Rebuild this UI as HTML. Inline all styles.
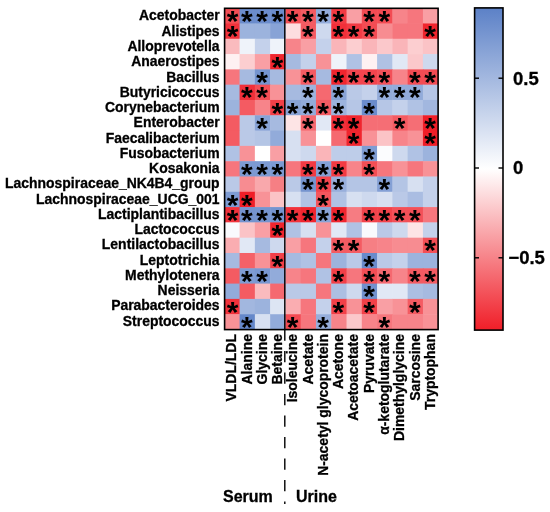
<!DOCTYPE html><html><head><meta charset="utf-8"><title>Heatmap</title><style>html,body{margin:0;padding:0;background:#fff}svg{display:block}text{font-family:"Liberation Sans",sans-serif;font-weight:bold;fill:#000}</style></head><body>
<svg width="550" height="512" viewBox="0 0 550 512">
<defs><linearGradient id="cb" x1="0" y1="0" x2="0" y2="1"><stop offset="0" stop-color="#5c81c7"/><stop offset="0.5" stop-color="#ffffff"/><stop offset="1" stop-color="#f01e28"/></linearGradient></defs>
<rect width="550" height="512" fill="#fff"/>
<g>
<rect x="224.30" y="8.15" width="15.78" height="15.80" fill="#f34e55"/>
<rect x="239.58" y="8.15" width="15.78" height="15.80" fill="#6b8ccc"/>
<rect x="254.86" y="8.15" width="15.78" height="15.80" fill="#6b8ccc"/>
<rect x="270.14" y="8.15" width="15.78" height="15.80" fill="#6b8ccc"/>
<rect x="285.41" y="8.15" width="15.78" height="15.80" fill="#f34e55"/>
<rect x="300.69" y="8.15" width="15.78" height="15.80" fill="#f45b62"/>
<rect x="315.97" y="8.15" width="15.78" height="15.80" fill="#92abda"/>
<rect x="331.25" y="8.15" width="15.78" height="15.80" fill="#f23a43"/>
<rect x="346.53" y="8.15" width="15.78" height="15.80" fill="#f99fa4"/>
<rect x="361.81" y="8.15" width="15.78" height="15.80" fill="#f34b53"/>
<rect x="377.09" y="8.15" width="15.78" height="15.80" fill="#f34b53"/>
<rect x="392.36" y="8.15" width="15.78" height="15.80" fill="#f7848a"/>
<rect x="407.64" y="8.15" width="15.78" height="15.80" fill="#f6767d"/>
<rect x="422.92" y="8.15" width="15.28" height="15.80" fill="#f99fa4"/>
<rect x="224.30" y="23.45" width="15.78" height="15.80" fill="#f1323b"/>
<rect x="239.58" y="23.45" width="15.78" height="15.80" fill="#9cb3dd"/>
<rect x="254.86" y="23.45" width="15.78" height="15.80" fill="#9cb3dd"/>
<rect x="270.14" y="23.45" width="15.78" height="15.80" fill="#88a3d6"/>
<rect x="285.41" y="23.45" width="15.78" height="15.80" fill="#fddee0"/>
<rect x="300.69" y="23.45" width="15.78" height="15.80" fill="#f45b62"/>
<rect x="315.97" y="23.45" width="15.78" height="15.80" fill="#ced9ee"/>
<rect x="331.25" y="23.45" width="15.78" height="15.80" fill="#f12f39"/>
<rect x="346.53" y="23.45" width="15.78" height="15.80" fill="#f23a43"/>
<rect x="361.81" y="23.45" width="15.78" height="15.80" fill="#f34b53"/>
<rect x="377.09" y="23.45" width="15.78" height="15.80" fill="#f78c91"/>
<rect x="392.36" y="23.45" width="15.78" height="15.80" fill="#f6767d"/>
<rect x="407.64" y="23.45" width="15.78" height="15.80" fill="#f6767d"/>
<rect x="422.92" y="23.45" width="15.28" height="15.80" fill="#f0252e"/>
<rect x="224.30" y="38.75" width="15.78" height="15.80" fill="#fabbbe"/>
<rect x="239.58" y="38.75" width="15.78" height="15.80" fill="#eff3fa"/>
<rect x="254.86" y="38.75" width="15.78" height="15.80" fill="#c4d1eb"/>
<rect x="270.14" y="38.75" width="15.78" height="15.80" fill="#eff3fa"/>
<rect x="285.41" y="38.75" width="15.78" height="15.80" fill="#f7848a"/>
<rect x="300.69" y="38.75" width="15.78" height="15.80" fill="#f99fa4"/>
<rect x="315.97" y="38.75" width="15.78" height="15.80" fill="#c4d1eb"/>
<rect x="331.25" y="38.75" width="15.78" height="15.80" fill="#fab5b9"/>
<rect x="346.53" y="38.75" width="15.78" height="15.80" fill="#fcced0"/>
<rect x="361.81" y="38.75" width="15.78" height="15.80" fill="#fab5b9"/>
<rect x="377.09" y="38.75" width="15.78" height="15.80" fill="#fbc8cb"/>
<rect x="392.36" y="38.75" width="15.78" height="15.80" fill="#fab5b9"/>
<rect x="407.64" y="38.75" width="15.78" height="15.80" fill="#fcced0"/>
<rect x="422.92" y="38.75" width="15.28" height="15.80" fill="#fbc3c6"/>
<rect x="224.30" y="54.06" width="15.78" height="15.80" fill="#fef1f2"/>
<rect x="239.58" y="54.06" width="15.78" height="15.80" fill="#fcced0"/>
<rect x="254.86" y="54.06" width="15.78" height="15.80" fill="#f99fa4"/>
<rect x="270.14" y="54.06" width="15.78" height="15.80" fill="#f0252e"/>
<rect x="285.41" y="54.06" width="15.78" height="15.80" fill="#a6bae0"/>
<rect x="300.69" y="54.06" width="15.78" height="15.80" fill="#c4d1eb"/>
<rect x="315.97" y="54.06" width="15.78" height="15.80" fill="#f89297"/>
<rect x="331.25" y="54.06" width="15.78" height="15.80" fill="#eff3fa"/>
<rect x="346.53" y="54.06" width="15.78" height="15.80" fill="#b0c2e4"/>
<rect x="361.81" y="54.06" width="15.78" height="15.80" fill="#fef1f2"/>
<rect x="377.09" y="54.06" width="15.78" height="15.80" fill="#b0c2e4"/>
<rect x="392.36" y="54.06" width="15.78" height="15.80" fill="#e1e8f5"/>
<rect x="407.64" y="54.06" width="15.78" height="15.80" fill="#fbc8cb"/>
<rect x="422.92" y="54.06" width="15.28" height="15.80" fill="#ced9ee"/>
<rect x="224.30" y="69.36" width="15.78" height="15.80" fill="#f6767d"/>
<rect x="239.58" y="69.36" width="15.78" height="15.80" fill="#a6bae0"/>
<rect x="254.86" y="69.36" width="15.78" height="15.80" fill="#7594cf"/>
<rect x="270.14" y="69.36" width="15.78" height="15.80" fill="#a6bae0"/>
<rect x="285.41" y="69.36" width="15.78" height="15.80" fill="#f89297"/>
<rect x="300.69" y="69.36" width="15.78" height="15.80" fill="#f45b62"/>
<rect x="315.97" y="69.36" width="15.78" height="15.80" fill="#a6bae0"/>
<rect x="331.25" y="69.36" width="15.78" height="15.80" fill="#f0252e"/>
<rect x="346.53" y="69.36" width="15.78" height="15.80" fill="#f3454e"/>
<rect x="361.81" y="69.36" width="15.78" height="15.80" fill="#f3454e"/>
<rect x="377.09" y="69.36" width="15.78" height="15.80" fill="#f35058"/>
<rect x="392.36" y="69.36" width="15.78" height="15.80" fill="#f7848a"/>
<rect x="407.64" y="69.36" width="15.78" height="15.80" fill="#f34b53"/>
<rect x="422.92" y="69.36" width="15.28" height="15.80" fill="#f34b53"/>
<rect x="224.30" y="84.66" width="15.78" height="15.80" fill="#a6bae0"/>
<rect x="239.58" y="84.66" width="15.78" height="15.80" fill="#f12f39"/>
<rect x="254.86" y="84.66" width="15.78" height="15.80" fill="#f34e55"/>
<rect x="270.14" y="84.66" width="15.78" height="15.80" fill="#f89297"/>
<rect x="285.41" y="84.66" width="15.78" height="15.80" fill="#a6bae0"/>
<rect x="300.69" y="84.66" width="15.78" height="15.80" fill="#9cb3dd"/>
<rect x="315.97" y="84.66" width="15.78" height="15.80" fill="#f56970"/>
<rect x="331.25" y="84.66" width="15.78" height="15.80" fill="#88a3d6"/>
<rect x="346.53" y="84.66" width="15.78" height="15.80" fill="#bac9e7"/>
<rect x="361.81" y="84.66" width="15.78" height="15.80" fill="#c4d1eb"/>
<rect x="377.09" y="84.66" width="15.78" height="15.80" fill="#92abda"/>
<rect x="392.36" y="84.66" width="15.78" height="15.80" fill="#92abda"/>
<rect x="407.64" y="84.66" width="15.78" height="15.80" fill="#92abda"/>
<rect x="422.92" y="84.66" width="15.28" height="15.80" fill="#b6c6e6"/>
<rect x="224.30" y="99.96" width="15.78" height="15.80" fill="#9cb3dd"/>
<rect x="239.58" y="99.96" width="15.78" height="15.80" fill="#f45b62"/>
<rect x="254.86" y="99.96" width="15.78" height="15.80" fill="#f7848a"/>
<rect x="270.14" y="99.96" width="15.78" height="15.80" fill="#f24048"/>
<rect x="285.41" y="99.96" width="15.78" height="15.80" fill="#88a3d6"/>
<rect x="300.69" y="99.96" width="15.78" height="15.80" fill="#92abda"/>
<rect x="315.97" y="99.96" width="15.78" height="15.80" fill="#f45b62"/>
<rect x="331.25" y="99.96" width="15.78" height="15.80" fill="#9cb3dd"/>
<rect x="346.53" y="99.96" width="15.78" height="15.80" fill="#b6c6e6"/>
<rect x="361.81" y="99.96" width="15.78" height="15.80" fill="#6b8ccc"/>
<rect x="377.09" y="99.96" width="15.78" height="15.80" fill="#b6c6e6"/>
<rect x="392.36" y="99.96" width="15.78" height="15.80" fill="#c4d1eb"/>
<rect x="407.64" y="99.96" width="15.78" height="15.80" fill="#b0c2e4"/>
<rect x="422.92" y="99.96" width="15.28" height="15.80" fill="#a2b7df"/>
<rect x="224.30" y="115.27" width="15.78" height="15.80" fill="#f45b62"/>
<rect x="239.58" y="115.27" width="15.78" height="15.80" fill="#bac9e7"/>
<rect x="254.86" y="115.27" width="15.78" height="15.80" fill="#88a3d6"/>
<rect x="270.14" y="115.27" width="15.78" height="15.80" fill="#a6bae0"/>
<rect x="285.41" y="115.27" width="15.78" height="15.80" fill="#fde4e5"/>
<rect x="300.69" y="115.27" width="15.78" height="15.80" fill="#f56970"/>
<rect x="315.97" y="115.27" width="15.78" height="15.80" fill="#e1e8f5"/>
<rect x="331.25" y="115.27" width="15.78" height="15.80" fill="#f12f39"/>
<rect x="346.53" y="115.27" width="15.78" height="15.80" fill="#f0252e"/>
<rect x="361.81" y="115.27" width="15.78" height="15.80" fill="#f56e75"/>
<rect x="377.09" y="115.27" width="15.78" height="15.80" fill="#f56e75"/>
<rect x="392.36" y="115.27" width="15.78" height="15.80" fill="#f45b62"/>
<rect x="407.64" y="115.27" width="15.78" height="15.80" fill="#f56e75"/>
<rect x="422.92" y="115.27" width="15.28" height="15.80" fill="#f01e28"/>
<rect x="224.30" y="130.57" width="15.78" height="15.80" fill="#f45b62"/>
<rect x="239.58" y="130.57" width="15.78" height="15.80" fill="#bac9e7"/>
<rect x="254.86" y="130.57" width="15.78" height="15.80" fill="#b4c5e5"/>
<rect x="270.14" y="130.57" width="15.78" height="15.80" fill="#92abda"/>
<rect x="285.41" y="130.57" width="15.78" height="15.80" fill="#d7e0f1"/>
<rect x="300.69" y="130.57" width="15.78" height="15.80" fill="#f89297"/>
<rect x="315.97" y="130.57" width="15.78" height="15.80" fill="#ffffff"/>
<rect x="331.25" y="130.57" width="15.78" height="15.80" fill="#f56970"/>
<rect x="346.53" y="130.57" width="15.78" height="15.80" fill="#f0252e"/>
<rect x="361.81" y="130.57" width="15.78" height="15.80" fill="#f89297"/>
<rect x="377.09" y="130.57" width="15.78" height="15.80" fill="#fbc3c6"/>
<rect x="392.36" y="130.57" width="15.78" height="15.80" fill="#f7848a"/>
<rect x="407.64" y="130.57" width="15.78" height="15.80" fill="#f89297"/>
<rect x="422.92" y="130.57" width="15.28" height="15.80" fill="#f01e28"/>
<rect x="224.30" y="145.87" width="15.78" height="15.80" fill="#b0c2e4"/>
<rect x="239.58" y="145.87" width="15.78" height="15.80" fill="#f89297"/>
<rect x="254.86" y="145.87" width="15.78" height="15.80" fill="#ffffff"/>
<rect x="270.14" y="145.87" width="15.78" height="15.80" fill="#f99fa4"/>
<rect x="285.41" y="145.87" width="15.78" height="15.80" fill="#d7e0f1"/>
<rect x="300.69" y="145.87" width="15.78" height="15.80" fill="#ced9ee"/>
<rect x="315.97" y="145.87" width="15.78" height="15.80" fill="#fab5b9"/>
<rect x="331.25" y="145.87" width="15.78" height="15.80" fill="#becde9"/>
<rect x="346.53" y="145.87" width="15.78" height="15.80" fill="#becde9"/>
<rect x="361.81" y="145.87" width="15.78" height="15.80" fill="#7e9cd3"/>
<rect x="377.09" y="145.87" width="15.78" height="15.80" fill="#fbfcfe"/>
<rect x="392.36" y="145.87" width="15.78" height="15.80" fill="#ced9ee"/>
<rect x="407.64" y="145.87" width="15.78" height="15.80" fill="#b0c2e4"/>
<rect x="422.92" y="145.87" width="15.28" height="15.80" fill="#9cb3dd"/>
<rect x="224.30" y="161.17" width="15.78" height="15.80" fill="#f6767d"/>
<rect x="239.58" y="161.17" width="15.78" height="15.80" fill="#7c9ad2"/>
<rect x="254.86" y="161.17" width="15.78" height="15.80" fill="#7c9ad2"/>
<rect x="270.14" y="161.17" width="15.78" height="15.80" fill="#7c9ad2"/>
<rect x="285.41" y="161.17" width="15.78" height="15.80" fill="#f6767d"/>
<rect x="300.69" y="161.17" width="15.78" height="15.80" fill="#f23a43"/>
<rect x="315.97" y="161.17" width="15.78" height="15.80" fill="#84a0d5"/>
<rect x="331.25" y="161.17" width="15.78" height="15.80" fill="#f23a43"/>
<rect x="346.53" y="161.17" width="15.78" height="15.80" fill="#f7848a"/>
<rect x="361.81" y="161.17" width="15.78" height="15.80" fill="#f34e55"/>
<rect x="377.09" y="161.17" width="15.78" height="15.80" fill="#f6767d"/>
<rect x="392.36" y="161.17" width="15.78" height="15.80" fill="#f89297"/>
<rect x="407.64" y="161.17" width="15.78" height="15.80" fill="#f6767d"/>
<rect x="422.92" y="161.17" width="15.28" height="15.80" fill="#f89297"/>
<rect x="224.30" y="176.48" width="15.78" height="15.80" fill="#bac9e7"/>
<rect x="239.58" y="176.48" width="15.78" height="15.80" fill="#f78c91"/>
<rect x="254.86" y="176.48" width="15.78" height="15.80" fill="#f9a8ac"/>
<rect x="270.14" y="176.48" width="15.78" height="15.80" fill="#f67f84"/>
<rect x="285.41" y="176.48" width="15.78" height="15.80" fill="#bac9e7"/>
<rect x="300.69" y="176.48" width="15.78" height="15.80" fill="#7594cf"/>
<rect x="315.97" y="176.48" width="15.78" height="15.80" fill="#f3454e"/>
<rect x="331.25" y="176.48" width="15.78" height="15.80" fill="#98afdc"/>
<rect x="346.53" y="176.48" width="15.78" height="15.80" fill="#b4c5e5"/>
<rect x="361.81" y="176.48" width="15.78" height="15.80" fill="#b4c5e5"/>
<rect x="377.09" y="176.48" width="15.78" height="15.80" fill="#84a0d5"/>
<rect x="392.36" y="176.48" width="15.78" height="15.80" fill="#b4c5e5"/>
<rect x="407.64" y="176.48" width="15.78" height="15.80" fill="#d7e0f1"/>
<rect x="422.92" y="176.48" width="15.28" height="15.80" fill="#c4d1eb"/>
<rect x="224.30" y="191.78" width="15.78" height="15.80" fill="#7e9cd3"/>
<rect x="239.58" y="191.78" width="15.78" height="15.80" fill="#f01e28"/>
<rect x="254.86" y="191.78" width="15.78" height="15.80" fill="#f89297"/>
<rect x="270.14" y="191.78" width="15.78" height="15.80" fill="#fbc3c6"/>
<rect x="285.41" y="191.78" width="15.78" height="15.80" fill="#d7e0f1"/>
<rect x="300.69" y="191.78" width="15.78" height="15.80" fill="#b0c2e4"/>
<rect x="315.97" y="191.78" width="15.78" height="15.80" fill="#f4565d"/>
<rect x="331.25" y="191.78" width="15.78" height="15.80" fill="#b0c2e4"/>
<rect x="346.53" y="191.78" width="15.78" height="15.80" fill="#d7e0f1"/>
<rect x="361.81" y="191.78" width="15.78" height="15.80" fill="#ced9ee"/>
<rect x="377.09" y="191.78" width="15.78" height="15.80" fill="#d7e0f1"/>
<rect x="392.36" y="191.78" width="15.78" height="15.80" fill="#bac9e7"/>
<rect x="407.64" y="191.78" width="15.78" height="15.80" fill="#aabde2"/>
<rect x="422.92" y="191.78" width="15.28" height="15.80" fill="#c4d1eb"/>
<rect x="224.30" y="207.08" width="15.78" height="15.80" fill="#f1323b"/>
<rect x="239.58" y="207.08" width="15.78" height="15.80" fill="#7594cf"/>
<rect x="254.86" y="207.08" width="15.78" height="15.80" fill="#7594cf"/>
<rect x="270.14" y="207.08" width="15.78" height="15.80" fill="#7594cf"/>
<rect x="285.41" y="207.08" width="15.78" height="15.80" fill="#f1323b"/>
<rect x="300.69" y="207.08" width="15.78" height="15.80" fill="#f0252e"/>
<rect x="315.97" y="207.08" width="15.78" height="15.80" fill="#88a3d6"/>
<rect x="331.25" y="207.08" width="15.78" height="15.80" fill="#f0252e"/>
<rect x="346.53" y="207.08" width="15.78" height="15.80" fill="#f67c82"/>
<rect x="361.81" y="207.08" width="15.78" height="15.80" fill="#f2434b"/>
<rect x="377.09" y="207.08" width="15.78" height="15.80" fill="#f2434b"/>
<rect x="392.36" y="207.08" width="15.78" height="15.80" fill="#f35058"/>
<rect x="407.64" y="207.08" width="15.78" height="15.80" fill="#f35058"/>
<rect x="422.92" y="207.08" width="15.28" height="15.80" fill="#f6767d"/>
<rect x="224.30" y="222.38" width="15.78" height="15.80" fill="#f9fafd"/>
<rect x="239.58" y="222.38" width="15.78" height="15.80" fill="#fbc3c6"/>
<rect x="254.86" y="222.38" width="15.78" height="15.80" fill="#f99fa4"/>
<rect x="270.14" y="222.38" width="15.78" height="15.80" fill="#f0252e"/>
<rect x="285.41" y="222.38" width="15.78" height="15.80" fill="#b0c2e4"/>
<rect x="300.69" y="222.38" width="15.78" height="15.80" fill="#d7e0f1"/>
<rect x="315.97" y="222.38" width="15.78" height="15.80" fill="#f89297"/>
<rect x="331.25" y="222.38" width="15.78" height="15.80" fill="#e1e8f5"/>
<rect x="346.53" y="222.38" width="15.78" height="15.80" fill="#b0c2e4"/>
<rect x="361.81" y="222.38" width="15.78" height="15.80" fill="#f9fafd"/>
<rect x="377.09" y="222.38" width="15.78" height="15.80" fill="#bac9e7"/>
<rect x="392.36" y="222.38" width="15.78" height="15.80" fill="#ced9ee"/>
<rect x="407.64" y="222.38" width="15.78" height="15.80" fill="#fde4e5"/>
<rect x="422.92" y="222.38" width="15.28" height="15.80" fill="#c4d1eb"/>
<rect x="224.30" y="237.69" width="15.78" height="15.80" fill="#faadb1"/>
<rect x="239.58" y="237.69" width="15.78" height="15.80" fill="#e1e8f5"/>
<rect x="254.86" y="237.69" width="15.78" height="15.80" fill="#a6bae0"/>
<rect x="270.14" y="237.69" width="15.78" height="15.80" fill="#ced9ee"/>
<rect x="285.41" y="237.69" width="15.78" height="15.80" fill="#f99fa4"/>
<rect x="300.69" y="237.69" width="15.78" height="15.80" fill="#f6767d"/>
<rect x="315.97" y="237.69" width="15.78" height="15.80" fill="#c4d1eb"/>
<rect x="331.25" y="237.69" width="15.78" height="15.80" fill="#f45b62"/>
<rect x="346.53" y="237.69" width="15.78" height="15.80" fill="#f45b62"/>
<rect x="361.81" y="237.69" width="15.78" height="15.80" fill="#f67f84"/>
<rect x="377.09" y="237.69" width="15.78" height="15.80" fill="#f7848a"/>
<rect x="392.36" y="237.69" width="15.78" height="15.80" fill="#f78c91"/>
<rect x="407.64" y="237.69" width="15.78" height="15.80" fill="#f78c91"/>
<rect x="422.92" y="237.69" width="15.28" height="15.80" fill="#f34e55"/>
<rect x="224.30" y="252.99" width="15.78" height="15.80" fill="#a6bae0"/>
<rect x="239.58" y="252.99" width="15.78" height="15.80" fill="#f46168"/>
<rect x="254.86" y="252.99" width="15.78" height="15.80" fill="#f89297"/>
<rect x="270.14" y="252.99" width="15.78" height="15.80" fill="#f24048"/>
<rect x="285.41" y="252.99" width="15.78" height="15.80" fill="#a6bae0"/>
<rect x="300.69" y="252.99" width="15.78" height="15.80" fill="#b0c2e4"/>
<rect x="315.97" y="252.99" width="15.78" height="15.80" fill="#f6767d"/>
<rect x="331.25" y="252.99" width="15.78" height="15.80" fill="#9cb3dd"/>
<rect x="346.53" y="252.99" width="15.78" height="15.80" fill="#bac9e7"/>
<rect x="361.81" y="252.99" width="15.78" height="15.80" fill="#698bcb"/>
<rect x="377.09" y="252.99" width="15.78" height="15.80" fill="#bac9e7"/>
<rect x="392.36" y="252.99" width="15.78" height="15.80" fill="#c4d1eb"/>
<rect x="407.64" y="252.99" width="15.78" height="15.80" fill="#9cb3dd"/>
<rect x="422.92" y="252.99" width="15.28" height="15.80" fill="#9cb3dd"/>
<rect x="224.30" y="268.29" width="15.78" height="15.80" fill="#f45b62"/>
<rect x="239.58" y="268.29" width="15.78" height="15.80" fill="#7e9cd3"/>
<rect x="254.86" y="268.29" width="15.78" height="15.80" fill="#7897d1"/>
<rect x="270.14" y="268.29" width="15.78" height="15.80" fill="#92abda"/>
<rect x="285.41" y="268.29" width="15.78" height="15.80" fill="#f7848a"/>
<rect x="300.69" y="268.29" width="15.78" height="15.80" fill="#f6767d"/>
<rect x="315.97" y="268.29" width="15.78" height="15.80" fill="#b0c2e4"/>
<rect x="331.25" y="268.29" width="15.78" height="15.80" fill="#f24048"/>
<rect x="346.53" y="268.29" width="15.78" height="15.80" fill="#f6767d"/>
<rect x="361.81" y="268.29" width="15.78" height="15.80" fill="#f34e55"/>
<rect x="377.09" y="268.29" width="15.78" height="15.80" fill="#f56970"/>
<rect x="392.36" y="268.29" width="15.78" height="15.80" fill="#f7848a"/>
<rect x="407.64" y="268.29" width="15.78" height="15.80" fill="#f45b62"/>
<rect x="422.92" y="268.29" width="15.28" height="15.80" fill="#f45b62"/>
<rect x="224.30" y="283.59" width="15.78" height="15.80" fill="#92abda"/>
<rect x="239.58" y="283.59" width="15.78" height="15.80" fill="#f45b62"/>
<rect x="254.86" y="283.59" width="15.78" height="15.80" fill="#fabbbe"/>
<rect x="270.14" y="283.59" width="15.78" height="15.80" fill="#f56970"/>
<rect x="285.41" y="283.59" width="15.78" height="15.80" fill="#bac9e7"/>
<rect x="300.69" y="283.59" width="15.78" height="15.80" fill="#bac9e7"/>
<rect x="315.97" y="283.59" width="15.78" height="15.80" fill="#f6767d"/>
<rect x="331.25" y="283.59" width="15.78" height="15.80" fill="#acbfe2"/>
<rect x="346.53" y="283.59" width="15.78" height="15.80" fill="#ced9ee"/>
<rect x="361.81" y="283.59" width="15.78" height="15.80" fill="#7191ce"/>
<rect x="377.09" y="283.59" width="15.78" height="15.80" fill="#e1e8f5"/>
<rect x="392.36" y="283.59" width="15.78" height="15.80" fill="#e1e8f5"/>
<rect x="407.64" y="283.59" width="15.78" height="15.80" fill="#acbfe2"/>
<rect x="422.92" y="283.59" width="15.28" height="15.80" fill="#a6bae0"/>
<rect x="224.30" y="298.90" width="15.78" height="15.80" fill="#f1323b"/>
<rect x="239.58" y="298.90" width="15.78" height="15.80" fill="#a2b7df"/>
<rect x="254.86" y="298.90" width="15.78" height="15.80" fill="#9cb3dd"/>
<rect x="270.14" y="298.90" width="15.78" height="15.80" fill="#dde5f3"/>
<rect x="285.41" y="298.90" width="15.78" height="15.80" fill="#faadb1"/>
<rect x="300.69" y="298.90" width="15.78" height="15.80" fill="#f6767d"/>
<rect x="315.97" y="298.90" width="15.78" height="15.80" fill="#c4d1eb"/>
<rect x="331.25" y="298.90" width="15.78" height="15.80" fill="#f24048"/>
<rect x="346.53" y="298.90" width="15.78" height="15.80" fill="#f89297"/>
<rect x="361.81" y="298.90" width="15.78" height="15.80" fill="#f24048"/>
<rect x="377.09" y="298.90" width="15.78" height="15.80" fill="#f99fa4"/>
<rect x="392.36" y="298.90" width="15.78" height="15.80" fill="#f89297"/>
<rect x="407.64" y="298.90" width="15.78" height="15.80" fill="#f45b62"/>
<rect x="422.92" y="298.90" width="15.28" height="15.80" fill="#f89297"/>
<rect x="224.30" y="314.20" width="15.78" height="15.30" fill="#f89297"/>
<rect x="239.58" y="314.20" width="15.78" height="15.30" fill="#6588ca"/>
<rect x="254.86" y="314.20" width="15.78" height="15.30" fill="#d7e0f1"/>
<rect x="270.14" y="314.20" width="15.78" height="15.30" fill="#92abda"/>
<rect x="285.41" y="314.20" width="15.78" height="15.30" fill="#f34b53"/>
<rect x="300.69" y="314.20" width="15.78" height="15.30" fill="#f6767d"/>
<rect x="315.97" y="314.20" width="15.78" height="15.30" fill="#96aedb"/>
<rect x="331.25" y="314.20" width="15.78" height="15.30" fill="#f7848a"/>
<rect x="346.53" y="314.20" width="15.78" height="15.30" fill="#fbc8cb"/>
<rect x="361.81" y="314.20" width="15.78" height="15.30" fill="#f7848a"/>
<rect x="377.09" y="314.20" width="15.78" height="15.30" fill="#f6767d"/>
<rect x="392.36" y="314.20" width="15.78" height="15.30" fill="#f7848a"/>
<rect x="407.64" y="314.20" width="15.78" height="15.30" fill="#f7848a"/>
<rect x="422.92" y="314.20" width="15.28" height="15.30" fill="#f89297"/>
</g>
<g font-size="30">
<text x="226.65" y="31">*</text>
<text x="241.05" y="31">*</text>
<text x="256.31" y="31">*</text>
<text x="271.57" y="31">*</text>
<text x="286.83" y="31">*</text>
<text x="302.09" y="31">*</text>
<text x="317.35" y="31">*</text>
<text x="332.61" y="31">*</text>
<text x="363.13" y="31">*</text>
<text x="378.39" y="31">*</text>
<text x="226.65" y="46">*</text>
<text x="302.09" y="46">*</text>
<text x="332.61" y="46">*</text>
<text x="347.87" y="46">*</text>
<text x="363.13" y="46">*</text>
<text x="424.17" y="46">*</text>
<text x="271.57" y="77">*</text>
<text x="256.31" y="92">*</text>
<text x="302.09" y="92">*</text>
<text x="332.61" y="92">*</text>
<text x="347.87" y="92">*</text>
<text x="363.13" y="92">*</text>
<text x="378.39" y="92">*</text>
<text x="408.91" y="92">*</text>
<text x="424.17" y="92">*</text>
<text x="241.05" y="107">*</text>
<text x="256.31" y="107">*</text>
<text x="302.09" y="107">*</text>
<text x="332.61" y="107">*</text>
<text x="378.39" y="107">*</text>
<text x="393.65" y="107">*</text>
<text x="408.91" y="107">*</text>
<text x="271.57" y="123">*</text>
<text x="286.83" y="123">*</text>
<text x="302.09" y="123">*</text>
<text x="317.35" y="123">*</text>
<text x="332.61" y="123">*</text>
<text x="363.13" y="123">*</text>
<text x="256.31" y="138">*</text>
<text x="302.09" y="138">*</text>
<text x="332.61" y="138">*</text>
<text x="347.87" y="138">*</text>
<text x="393.65" y="138">*</text>
<text x="424.17" y="138">*</text>
<text x="347.87" y="153">*</text>
<text x="424.17" y="153">*</text>
<text x="363.13" y="169">*</text>
<text x="241.05" y="184">*</text>
<text x="256.31" y="184">*</text>
<text x="271.57" y="184">*</text>
<text x="302.09" y="184">*</text>
<text x="317.35" y="184">*</text>
<text x="332.61" y="184">*</text>
<text x="363.13" y="184">*</text>
<text x="302.09" y="199">*</text>
<text x="317.35" y="199">*</text>
<text x="332.61" y="199">*</text>
<text x="378.39" y="199">*</text>
<text x="226.65" y="215">*</text>
<text x="241.05" y="215">*</text>
<text x="317.35" y="215">*</text>
<text x="226.65" y="230">*</text>
<text x="241.05" y="230">*</text>
<text x="256.31" y="230">*</text>
<text x="271.57" y="230">*</text>
<text x="286.83" y="230">*</text>
<text x="302.09" y="230">*</text>
<text x="317.35" y="230">*</text>
<text x="332.61" y="230">*</text>
<text x="363.13" y="230">*</text>
<text x="378.39" y="230">*</text>
<text x="393.65" y="230">*</text>
<text x="408.91" y="230">*</text>
<text x="271.57" y="245">*</text>
<text x="332.61" y="260">*</text>
<text x="347.87" y="260">*</text>
<text x="424.17" y="260">*</text>
<text x="271.57" y="276">*</text>
<text x="363.13" y="276">*</text>
<text x="241.05" y="291">*</text>
<text x="256.31" y="291">*</text>
<text x="332.61" y="291">*</text>
<text x="363.13" y="291">*</text>
<text x="378.39" y="291">*</text>
<text x="408.91" y="291">*</text>
<text x="424.17" y="291">*</text>
<text x="363.13" y="306">*</text>
<text x="226.65" y="322">*</text>
<text x="332.61" y="322">*</text>
<text x="363.13" y="322">*</text>
<text x="408.91" y="322">*</text>
<text x="241.05" y="337">*</text>
<text x="286.83" y="337">*</text>
<text x="317.35" y="337">*</text>
<text x="378.39" y="337">*</text>
</g>
<rect x="224.6" y="8.3" width="213.5" height="321.3" fill="none" stroke="#000" stroke-width="1.6"/>
<line x1="284.8" y1="8.15" x2="284.8" y2="329.50" stroke="#000" stroke-width="1.4"/>
<line x1="284.8" y1="329.50" x2="284.8" y2="504" stroke="#000" stroke-width="1.4" stroke-dasharray="11.2 10.3"/>
<g font-size="13.95" text-anchor="end" stroke="#000" stroke-width="0.3">
<text x="219.6" y="20">Acetobacter</text>
<text x="219.6" y="36">Alistipes</text>
<text x="219.6" y="51">Alloprevotella</text>
<text x="219.6" y="66">Anaerostipes</text>
<text x="219.6" y="82">Bacillus</text>
<text x="219.6" y="97">Butyricicoccus</text>
<text x="219.6" y="112">Corynebacterium</text>
<text x="219.6" y="127">Enterobacter</text>
<text x="219.6" y="143">Faecalibacterium</text>
<text x="219.6" y="158">Fusobacterium</text>
<text x="219.6" y="173">Kosakonia</text>
<text x="219.6" y="188">Lachnospiraceae_NK4B4_group</text>
<text x="219.6" y="204">Lachnospiraceae_UCG_001</text>
<text x="219.6" y="219">Lactiplantibacillus</text>
<text x="219.6" y="234">Lactococcus</text>
<text x="219.6" y="249">Lentilactobacillus</text>
<text x="219.6" y="265">Leptotrichia</text>
<text x="219.6" y="280">Methylotenera</text>
<text x="219.6" y="295">Neisseria</text>
<text x="219.6" y="310">Parabacteroides</text>
<text x="219.6" y="326">Streptococcus</text>
</g>
<g font-size="13.95" text-anchor="end" stroke="#000" stroke-width="0.3">
<text transform="translate(236.24,334.1) rotate(-90)">VLDL/LDL</text>
<text transform="translate(251.52,334.1) rotate(-90)">Alanine</text>
<text transform="translate(266.80,334.1) rotate(-90)">Glycine</text>
<text transform="translate(282.07,334.1) rotate(-90)">Betaine</text>
<text transform="translate(297.35,334.1) rotate(-90)">Isoleucine</text>
<text transform="translate(312.63,334.1) rotate(-90)">Acetate</text>
<text transform="translate(327.91,334.1) rotate(-90)">N-acetyl glycoprotein</text>
<text transform="translate(343.19,334.1) rotate(-90)">Acetone</text>
<text transform="translate(358.47,334.1) rotate(-90)">Acetoacetate</text>
<text transform="translate(373.75,334.1) rotate(-90)">Pyruvate</text>
<text transform="translate(389.03,334.1) rotate(-90)">α-ketoglutarate</text>
<text transform="translate(404.30,334.1) rotate(-90)">Dimethylglycine</text>
<text transform="translate(419.58,334.1) rotate(-90)">Sarcosine</text>
<text transform="translate(434.86,334.1) rotate(-90)">Tryptophan</text>
</g>
<text x="223" y="502" font-size="16" stroke="#000" stroke-width="0.3">Serum</text>
<text x="296" y="502" font-size="16" stroke="#000" stroke-width="0.3">Urine</text>
<rect x="474.6" y="7.9" width="28.4" height="322.2" fill="url(#cb)" stroke="#000" stroke-width="1.6"/>
<line x1="474.6" x2="479" y1="78.20" y2="78.20" stroke="#000" stroke-width="1.4"/>
<line x1="498.5" x2="503" y1="78.20" y2="78.20" stroke="#000" stroke-width="1.4"/>
<text x="513" y="84.50" font-size="18.5" stroke="#000" stroke-width="0.3">0.5</text>
<line x1="474.6" x2="479" y1="168.00" y2="168.00" stroke="#000" stroke-width="1.4"/>
<line x1="498.5" x2="503" y1="168.00" y2="168.00" stroke="#000" stroke-width="1.4"/>
<text x="513" y="174.30" font-size="18.5" stroke="#000" stroke-width="0.3">0</text>
<line x1="474.6" x2="479" y1="257.80" y2="257.80" stroke="#000" stroke-width="1.4"/>
<line x1="498.5" x2="503" y1="257.80" y2="257.80" stroke="#000" stroke-width="1.4"/>
<text x="508.4" y="264.10" font-size="18.5" stroke="#000" stroke-width="0.3">−0.5</text>
</svg></body></html>
